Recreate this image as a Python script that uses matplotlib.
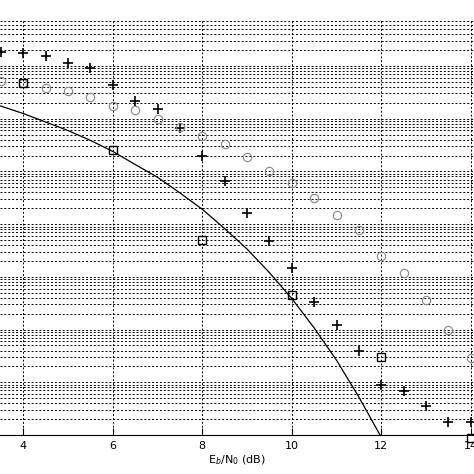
import matplotlib
matplotlib.use("Agg")
import matplotlib.pyplot as plt
from matplotlib.ticker import LogLocator, NullFormatter

curve_x = [3.0, 3.5, 4.0, 4.5, 5.0, 5.5, 6.0, 6.5, 7.0, 7.5, 8.0, 8.5, 9.0, 9.5, 10.0, 10.5, 11.0, 11.5, 12.0, 12.5]
curve_y = [0.0229, 0.0173, 0.0125, 0.00863, 5.95e-3, 3.87e-3, 2.39e-3, 1.35e-3, 7.73e-4, 3.9e-4, 1.91e-4,
           8.2e-5, 3.36e-5, 1.2e-5, 3.87e-6, 1.07e-6, 2.61e-7, 5.2e-8, 9.01e-9, 1.3e-9]

plus_x = [3.5, 4.0, 4.5, 5.0, 5.5, 6.0, 6.5, 7.0, 7.5, 8.0, 8.5, 9.0, 9.5, 10.0, 10.5, 11.0, 11.5, 12.0, 12.5, 13.0, 13.5, 14.0]
plus_y = [0.183, 0.175, 0.153, 0.113, 0.0908, 0.0432, 0.0214, 0.0151, 6.6e-3, 2.0e-3, 6.5e-4, 1.6e-4,
          4.7e-5, 1.5e-5, 3.4e-6, 1.2e-6, 4.0e-7, 9.0e-8, 6.9e-8, 3.6e-8, 1.8e-8, 1.8e-8]

circ_x = [3.5, 4.0, 4.5, 5.0, 5.5, 6.0, 6.5, 7.0, 7.5, 8.0, 8.5, 9.0, 9.5, 10.0, 10.5, 11.0, 11.5, 12.0, 12.5, 13.0, 13.5, 14.0]
circ_y = [0.0514, 0.047, 0.0378, 0.0332, 0.0255, 0.0172, 0.0144, 9.7e-3, 6.9e-3, 4.6e-3, 3.3e-3, 1.85e-3,
          1.0e-3, 5.9e-4, 3.1e-4, 1.5e-4, 7.6e-5, 2.5e-5, 1.2e-5, 3.7e-6, 1.0e-6, 2.9e-7]

sq_x = [4, 6, 8, 10, 12, 14]
sq_y = [0.047, 2.5e-3, 5.1e-5, 4.6e-6, 3.0e-7, 8.8e-9]

x_ticks = [4, 6, 8, 10, 12, 14]

fig = plt.figure(figsize=(4.74, 4.74), dpi=100)
ax = fig.add_axes([0.0, (474 - 435) / 474, 1.0, (435 - 19) / 474])
ax.semilogy(curve_x, curve_y, color='black', lw=0.9)
ax.semilogy(plus_x, plus_y, '+', color='black', ms=7, mew=1.2, clip_on=False)
ax.semilogy(circ_x, circ_y, 'o', mfc='none', mec='#888888', ms=6, mew=0.8, clip_on=False)
ax.semilogy(sq_x, sq_y, 's', mfc='none', mec='black', ms=6, mew=1.0, clip_on=False)

ax.set_xlim(3.48, 14.07)
ax.set_ylim(10 ** -8, 10 ** -0.11)
ax.set_xticks(x_ticks)
ax.yaxis.set_major_locator(LogLocator(base=10, numticks=20))
ax.yaxis.set_minor_locator(LogLocator(base=10, subs=range(2, 10), numticks=200))
ax.yaxis.set_minor_formatter(NullFormatter())
ax.set_yticklabels([])
ax.tick_params(axis='y', length=0, which='both')
ax.tick_params(axis='x', labelsize=8, direction='in', length=5, pad=4)
ax.grid(True, which='major', axis='both', color='black', ls=(0, (2, 2)), lw=0.7)
ax.grid(True, which='minor', axis='y', color='black', ls=(0, (2, 2)), lw=0.7)
ax.set_xlabel('E$_b$/N$_0$ (dB)', fontsize=8, labelpad=2)
for side in ['top', 'left', 'right']:
    ax.spines[side].set_visible(False)
ax.spines['bottom'].set_linewidth(0.8)
fig.savefig('out.png', dpi=100)
